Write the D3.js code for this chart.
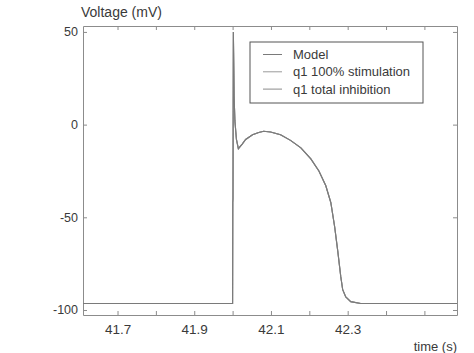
<!DOCTYPE html>
<html>
<head>
<meta charset="utf-8">
<script src="https://cdn.jsdelivr.net/npm/d3@7"></script>
<style>
  body { margin: 0; background: #fff; }
  text { font-family: "Liberation Sans", Arial, sans-serif; fill: #3a3a3a; }
</style>
</head>
<body>
<svg id="chart" width="474" height="353"></svg>
<script>
// action potential trace
const timeS = [41.61, 42.0, 42.0005, 42.001, 42.002, 42.004, 42.006, 42.010, 42.015,
  42.025, 42.034, 42.052, 42.068, 42.081, 42.099, 42.125, 42.151, 42.178, 42.204,
  42.225, 42.243, 42.256, 42.266, 42.274, 42.282, 42.287, 42.295, 42.308, 42.334, 42.585];
const modelV = [-96.5, -96.5, -42, -40, 50, 15, 2, -8, -13,
  -10.5, -8, -5.5, -4.2, -3.6, -4, -5.5, -8.5, -12.5, -18.5,
  -25, -33, -42, -55, -68, -82, -89, -93, -95.5, -96.5, -96.5];
// the two q1 traces lie on top of the model trace
const seriesNames = ["Model", "q1 100% stimulation", "q1 total inhibition"];
const seriesColors = ["#7a7a7a", "#9a9a9a", "#8a8a8a"];

const xTicks = [41.7, 41.8, 41.9, 42.0, 42.1, 42.2, 42.3, 42.4, 42.5];
const xLabels = [41.7, 41.9, 42.1, 42.3];
const yTicks = [50, 0, -50, -100];

const svg = d3.select("#chart"),
  margin = { top: 26, right: 17, bottom: 38, left: 83 },
  width = +svg.attr("width") - margin.left - margin.right,
  height = +svg.attr("height") - margin.top - margin.bottom;

const x = d3.scaleLinear().domain([41.61, 42.585]).range([margin.left, margin.left + width]);
const y = d3.scaleLinear().domain([-102.7, 53.2]).range([margin.top + height, margin.top]);

const fmt = (d) => (xLabels.some((v) => Math.abs(v - d) < 1e-9) ? d3.format(".1f")(d) : "");

function styleAxis(g) {
  g.selectAll("path.domain").attr("stroke", "#8c8c8c");
  g.selectAll(".tick line").attr("stroke", "#8c8c8c");
  g.selectAll(".tick text")
    .style("font-family", '"Liberation Sans", Arial, sans-serif')
    .attr("fill", "#3a3a3a");
}

// bottom
svg.append("g")
  .attr("transform", "translate(0," + (margin.top + height) + ")")
  .call(d3.axisBottom(x).tickValues(xTicks).tickFormat(fmt).tickSize(-4).tickSizeOuter(0).tickPadding(9))
  .call(styleAxis)
  .selectAll("text").style("font-size", "13.5px");

// top
svg.append("g")
  .attr("transform", "translate(0," + margin.top + ")")
  .call(d3.axisTop(x).tickValues(xTicks).tickFormat("").tickSize(-4).tickSizeOuter(0))
  .call(styleAxis);

// left
svg.append("g")
  .attr("transform", "translate(" + margin.left + ",0)")
  .call(d3.axisLeft(y).tickValues(yTicks).tickFormat((d) => String(d)).tickSize(-4).tickSizeOuter(0).tickPadding(5))
  .call(styleAxis)
  .selectAll("text").style("font-size", "12.5px");

// right
svg.append("g")
  .attr("transform", "translate(" + (margin.left + width) + ",0)")
  .call(d3.axisRight(y).tickValues(yTicks).tickFormat("").tickSize(-4).tickSizeOuter(0))
  .call(styleAxis);

// traces
const line = d3.line().x((d) => x(d[0])).y((d) => y(d[1]));
const pts = timeS.map((t, i) => [t, modelV[i]]);
seriesNames.slice().reverse().forEach((name, i) => {
  svg.append("path")
    .datum(pts)
    .attr("fill", "none")
    .attr("stroke", seriesColors[seriesNames.length - 1 - i])
    .attr("stroke-width", 1.1)
    .attr("d", line);
});

// legend
const legend = svg.append("g").attr("transform", "translate(250,42)");
legend.append("rect")
  .attr("width", 173).attr("height", 61)
  .attr("fill", "#fff").attr("stroke", "#555").attr("stroke-width", 1);
seriesNames.forEach((name, i) => {
  const ly = 12.5 + i * 17.3;
  legend.append("line")
    .attr("x1", 13).attr("x2", 32).attr("y1", ly).attr("y2", ly)
    .attr("stroke", seriesColors[i]).attr("stroke-width", 1);
  legend.append("text")
    .attr("x", 43).attr("y", ly).attr("dy", "0.35em")
    .style("font-size", "13px")
    .text(name);
});

// axis titles
svg.append("text")
  .attr("x", 81).attr("y", 17)
  .style("font-size", "14px")
  .text("Voltage (mV)");

svg.append("text")
  .attr("x", 457).attr("y", 351)
  .attr("text-anchor", "end")
  .style("font-size", "13px")
  .text("time (s)");
</script>
</body>
</html>
